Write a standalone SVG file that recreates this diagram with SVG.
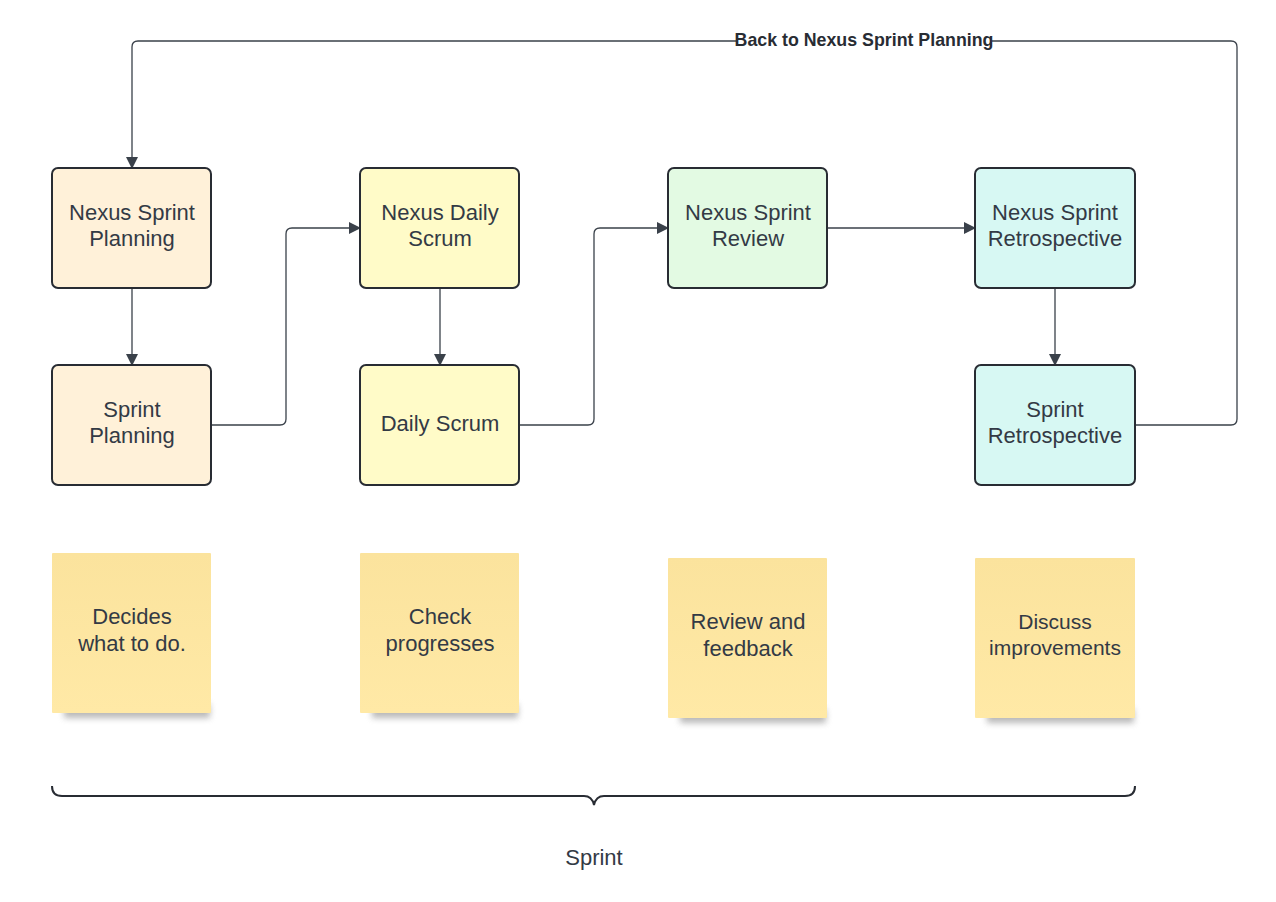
<svg xmlns="http://www.w3.org/2000/svg" width="1276" height="902" viewBox="0 0 1276 902">
<style>
.node{stroke:#282c33;stroke-width:2}
.lbl{font-family:"Liberation Sans",Arial,sans-serif;font-size:22px;fill:#333a45;text-anchor:middle}
.conn{fill:none;stroke:#3a414a;stroke-width:1.3}
.sticky{fill:url(#sg)}
.shadow{fill:#8a8a8a;opacity:0.6}
</style>
<defs>
<marker id="ah" viewBox="0 0 12 12" refX="11" refY="6" markerWidth="13" markerHeight="12" markerUnits="userSpaceOnUse" orient="auto">
<path d="M0,0 L12,6 L0,12 Z" fill="#3a414a"/>
</marker>
<linearGradient id="sg" x1="0" y1="0" x2="0" y2="1">
<stop offset="0" stop-color="#fbe39d"/>
<stop offset="1" stop-color="#ffe9a6"/>
</linearGradient>
<filter id="sh" x="-20%" y="-50%" width="140%" height="200%">
<feGaussianBlur stdDeviation="3"/>
</filter>
</defs>
<rect width="1276" height="902" fill="#ffffff"/>
<g id="connectors">
<path class="conn" d="M1135,425 H1231 Q1237,425 1237,419 V47 Q1237,41 1231,41 H138 Q132,41 132,47 V168" marker-end="url(#ah)"/>
<rect x="736" y="30" width="256" height="20" fill="#ffffff"/>
<text x="864" y="46" font-family="Liberation Sans,Arial,sans-serif" font-size="17.8" font-weight="bold" fill="#282c33" text-anchor="middle">Back to Nexus Sprint Planning</text>
<path class="conn" d="M132,288 V365" marker-end="url(#ah)"/>
<path class="conn" d="M440,288 V365" marker-end="url(#ah)"/>
<path class="conn" d="M1055,288 V365" marker-end="url(#ah)"/>
<path class="conn" d="M211,425 H280 Q286,425 286,419 V234 Q286,228 292,228 H360" marker-end="url(#ah)"/>
<path class="conn" d="M519,425 H588 Q594,425 594,419 V234 Q594,228 600,228 H668" marker-end="url(#ah)"/>
<path class="conn" d="M827,228 H975" marker-end="url(#ah)"/>
</g>
<g id="n1"><rect class="node" x="52" y="168" width="159" height="120" rx="6" fill="#fff1d9"/><text class="lbl" x="132" y="220">Nexus Sprint</text><text class="lbl" x="132" y="246">Planning</text></g>
<g id="n2"><rect class="node" x="52" y="365" width="159" height="120" rx="6" fill="#fff1d9"/><text class="lbl" x="132" y="417">Sprint</text><text class="lbl" x="132" y="443">Planning</text></g>
<g id="n3"><rect class="node" x="360" y="168" width="159" height="120" rx="6" fill="#fffbc8"/><text class="lbl" x="440" y="220">Nexus Daily</text><text class="lbl" x="440" y="246">Scrum</text></g>
<g id="n4"><rect class="node" x="360" y="365" width="159" height="120" rx="6" fill="#fffbc8"/><text class="lbl" x="440" y="431">Daily Scrum</text></g>
<g id="n5"><rect class="node" x="668" y="168" width="159" height="120" rx="6" fill="#e3fae3"/><text class="lbl" x="748" y="220">Nexus Sprint</text><text class="lbl" x="748" y="246">Review</text></g>
<g id="n6"><rect class="node" x="975" y="168" width="160" height="120" rx="6" fill="#d7f8f3"/><text class="lbl" x="1055" y="220">Nexus Sprint</text><text class="lbl" x="1055" y="246">Retrospective</text></g>
<g id="n7"><rect class="node" x="975" y="365" width="160" height="120" rx="6" fill="#d7f8f3"/><text class="lbl" x="1055" y="417">Sprint</text><text class="lbl" x="1055" y="443">Retrospective</text></g>
<g id="s1"><rect class="shadow" x="64" y="704" width="146" height="14" filter="url(#sh)"/><rect class="sticky" x="52" y="553" width="159" height="160" rx="1"/><text class="lbl" x="132" y="624">Decides</text><text class="lbl" x="132" y="651">what to do.</text></g>
<g id="s2"><rect class="shadow" x="372" y="704" width="146" height="14" filter="url(#sh)"/><rect class="sticky" x="360" y="553" width="159" height="160" rx="1"/><text class="lbl" x="440" y="624">Check</text><text class="lbl" x="440" y="651">progresses</text></g>
<g id="s3"><rect class="shadow" x="680" y="709" width="146" height="14" filter="url(#sh)"/><rect class="sticky" x="668" y="558" width="159" height="160" rx="1"/><text class="lbl" x="748" y="629">Review and</text><text class="lbl" x="748" y="656">feedback</text></g>
<g id="s4"><rect class="shadow" x="987" y="709" width="147" height="14" filter="url(#sh)"/><rect class="sticky" x="975" y="558" width="160" height="160" rx="1"/><text class="lbl" x="1055" y="629" style="font-size:21px">Discuss</text><text class="lbl" x="1055" y="655" style="font-size:21px">improvements</text></g>
<g id="brace">
<path d="M52,786 Q52,796 62,796 H584 Q592,796 594,805 Q596,796 604,796 H1125 Q1135,796 1135,786" fill="none" stroke="#282c33" stroke-width="2"/>
<text class="lbl" x="594" y="865">Sprint</text>
</g>
</svg>
